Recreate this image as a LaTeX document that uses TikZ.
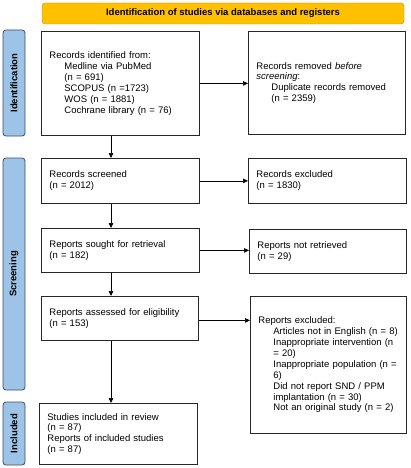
\documentclass[tikz,border=0pt]{standalone}
\usepackage{fontspec}
\setmainfont{Liberation Sans}
\usetikzlibrary{arrows.meta}

\definecolor{bannerfill}{HTML}{FFC000}
\definecolor{bannerdraw}{HTML}{BF9000}
\definecolor{phasefill}{HTML}{9DC3E6}
\definecolor{phasedraw}{HTML}{3B4E6B}

\newcommand{\ind}{\hspace*{15pt}}

\begin{document}
\begin{tikzpicture}[
    x=1pt, y=-1pt,
    every node/.style={font=\fontsize{9.5}{10.9}\selectfont},
    recbox/.style={draw=black!85, line width=0.8pt, anchor=north west,
      align=left, inner xsep=8pt, inner ysep=0pt},
    phase/.style={draw=phasedraw, fill=phasefill, line width=0.8pt,
      rounded corners=3pt, rotate=90, minimum height=22pt, inner sep=0pt,
      font=\fontsize{9.5}{10.9}\selectfont\bfseries},
    flow/.style={-{Triangle[length=5pt,width=4.5pt]}, line width=0.7pt}
  ]
  \useasboundingbox (0,0) rectangle (410,468);

  \node[draw=bannerdraw, fill=bannerfill, rounded corners=3pt,
    minimum width=362pt, minimum height=21pt, inner sep=0pt,
    font=\fontsize{9.5}{10.9}\selectfont\bfseries] (banner) at (223,13.5)
    {Identification of studies via databases and registers};

  \node[phase, minimum width=106pt] (idphase)  at (14,83)    {Identification};
  \node[phase, minimum width=232pt] (scrphase) at (14,274)   {Screening};
  \node[phase, minimum width=63pt]  (incphase) at (14,433.5) {Included};

  \node[recbox, text width=142pt, minimum height=104pt] (ident) at (41,31)
    {Records identified from:\\
     \ind Medline via PubMed\\
     \ind (n = 691)\\
     \ind SCOPUS (n =1723)\\
     \ind WOS (n = 1881)\\
     \ind Cochrane library (n = 76)};
  \node[recbox, text width=141pt, minimum height=103pt] (removed) at (248,31)
    {Records removed \textit{before}\\
     \textit{screening}:\\
     \ind Duplicate records removed\\
     \ind (n = 2359)};

  \node[recbox, text width=142pt, minimum height=45pt] (screened) at (41,158)
    {Records screened\\ (n = 2012)};
  \node[recbox, text width=142pt, minimum height=45pt] (excluded) at (248,158)
    {Records excluded\\ (n = 1830)};

  \node[recbox, text width=142pt, minimum height=44pt] (sought) at (41,228)
    {Reports sought for retrieval\\ (n = 182)};
  \node[recbox, text width=141pt, minimum height=44pt] (notret) at (249,229)
    {Reports not retrieved\\ (n = 29)};

  \node[recbox, text width=141pt, minimum height=44pt] (assessed) at (41,296)
    {Reports assessed for eligibility\\ (n = 153)};
  \node[recbox, text width=140pt, minimum height=137pt] (repexcl) at (250,296)
    {Reports excluded:\\
     \ind Articles not in English (n = 8)\\
     \ind Inappropriate intervention (n\\
     \ind = 20)\\
     \ind Inappropriate population (n =\\
     \ind 6)\\
     \ind Did not report SND / PPM\\
     \ind implantation (n = 30)\\
     \ind Not an original study (n = 2)};

  \node[recbox, text width=142pt, minimum height=61pt] (included) at (39,403)
    {Studies included in review\\
     (n = 87)\\
     Reports of included studies\\
     (n = 87)};

  % main column
  \coordinate (spine) at (111,0);
  \draw[flow] (ident.south -| spine)    -- (screened.north -| spine);
  \draw[flow] (screened.south -| spine) -- (sought.north -| spine);
  \draw[flow] (sought.south -| spine)   -- (assessed.north -| spine);
  \draw[flow] (assessed.south -| spine) -- (included.north -| spine);

  % exclusions
  \coordinate (assessout) at ([yshift=-2pt]assessed.east);
  \draw[flow] (ident.east)    -- (ident.east -| removed.west);
  \draw[flow] (screened.east) -- (screened.east -| excluded.west);
  \draw[flow] (sought.east)   -- (sought.east -| notret.west);
  \draw[flow] (assessout)     -- (assessout -| repexcl.west);
\end{tikzpicture}
\end{document}
